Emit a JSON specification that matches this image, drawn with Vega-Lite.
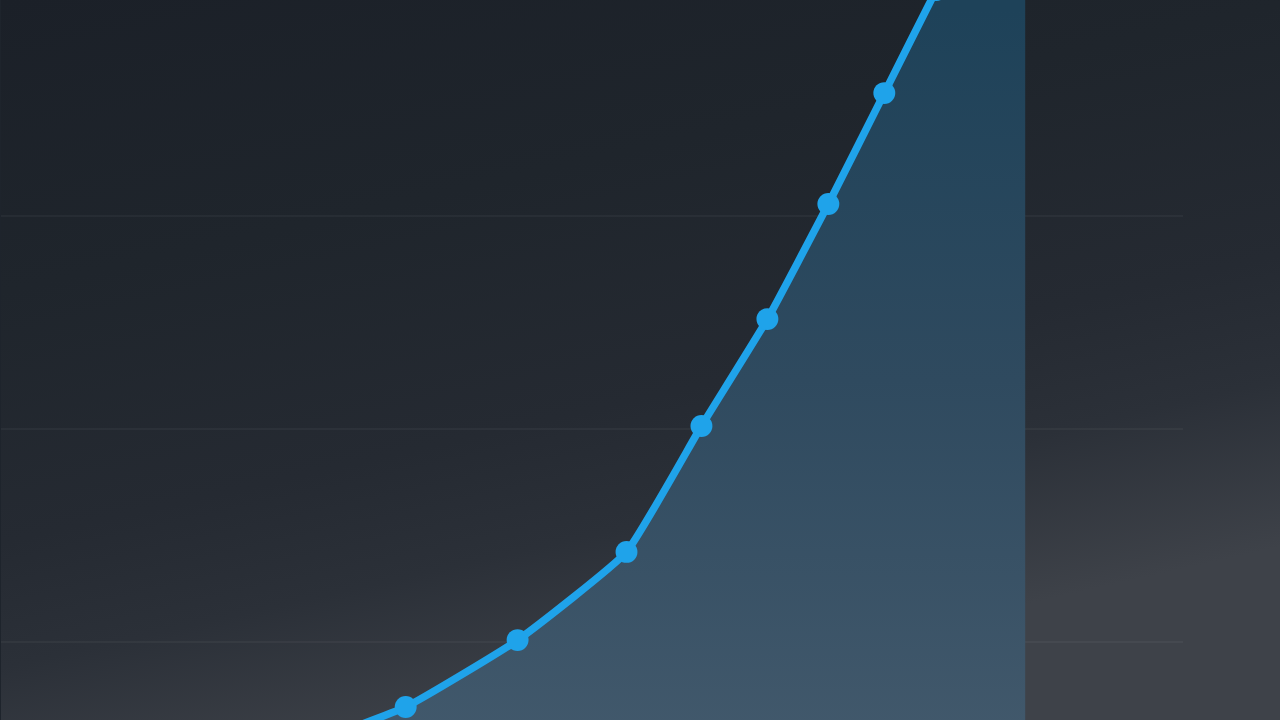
{
  "$schema": "https://vega.github.io/schema/vega-lite/v6.json",
  "width": 1280,
  "height": 720,
  "autosize": {"type": "fit", "contains": "padding"},
  "padding": 0,
  "background": "#1e242c",
  "config": {"view": {"stroke": null}},
  "datasets": {
    "series": [
      {"x": 29.0, "v": 4.93},
      {"x": 40.5, "v": 6.95},
      {"x": 51.7, "v": 10.09},
      {"x": 62.6, "v": 14.23},
      {"x": 70.1, "v": 20.14},
      {"x": 76.7, "v": 25.16},
      {"x": 82.8, "v": 30.56},
      {"x": 88.4, "v": 35.77},
      {"x": 93.6, "v": 40.61},
      {"x": 98.4, "v": 44.84},
      {"x": 102.5, "v": 48.36}
    ],
    "grid": [{"g": 10}, {"g": 20}, {"g": 30}]
  },
  "layer": [
    {
      "data": {"values": [{}]},
      "mark": {
        "type": "rect",
        "fill": {
          "gradient": "linear",
          "x1": 0, "y1": 0, "x2": 0.4, "y2": 1,
          "stops": [
            {"offset": 0, "color": "#1b2028"},
            {"offset": 0.35, "color": "#1f252c"},
            {"offset": 0.65, "color": "#252a32"},
            {"offset": 0.8, "color": "#2b3038"},
            {"offset": 1, "color": "#3e4249"}
          ]
        }
      },
      "encoding": {}
    },
    {
      "data": {"name": "grid"},
      "mark": {"type": "rule", "stroke": "#ffffff", "strokeOpacity": 0.04, "strokeWidth": 2},
      "encoding": {
        "y": {"field": "g", "type": "quantitative", "scale": {"domain": [6.338, 40.14], "nice": false, "zero": false}, "axis": null},
        "x": {"datum": 0, "type": "quantitative", "scale": {"domain": [0, 128], "nice": false, "zero": false}, "axis": null},
        "x2": {"datum": 118.3}
      }
    },
    {
      "data": {"name": "series"},
      "mark": {
        "type": "area",
        "interpolate": "cardinal",
        "tension": 0.6,
        "clip": true,
        "fill": {
          "gradient": "linear",
          "x1": 0, "y1": 0.2, "x2": 0, "y2": 1,
          "stops": [
            {"offset": 0, "color": "#1e4259"},
            {"offset": 0.5, "color": "#2f4a5f"},
            {"offset": 1, "color": "#42596c"}
          ]
        }
      },
      "encoding": {
        "x": {"field": "x", "type": "quantitative", "scale": {"domain": [0, 128], "nice": false, "zero": false}, "axis": null},
        "y": {"field": "v", "type": "quantitative", "scale": {"domain": [6.338, 40.14], "nice": false, "zero": false}, "axis": null},
        "y2": {"datum": 6.338}
      }
    },
    {
      "data": {"name": "series"},
      "mark": {"type": "line", "interpolate": "cardinal", "tension": 0.6, "clip": true, "color": "#1fa3ea", "strokeWidth": 7.5, "strokeCap": "round"},
      "encoding": {
        "x": {"field": "x", "type": "quantitative", "scale": {"domain": [0, 128], "nice": false, "zero": false}, "axis": null},
        "y": {"field": "v", "type": "quantitative", "scale": {"domain": [6.338, 40.14], "nice": false, "zero": false}, "axis": null}
      }
    },
    {
      "data": {"name": "series"},
      "mark": {"type": "point", "shape": "circle", "filled": true, "clip": true, "color": "#1fa3ea", "opacity": 1, "size": 480},
      "encoding": {
        "x": {"field": "x", "type": "quantitative", "scale": {"domain": [0, 128], "nice": false, "zero": false}, "axis": null},
        "y": {"field": "v", "type": "quantitative", "scale": {"domain": [6.338, 40.14], "nice": false, "zero": false}, "axis": null}
      }
    }
  ]
}
